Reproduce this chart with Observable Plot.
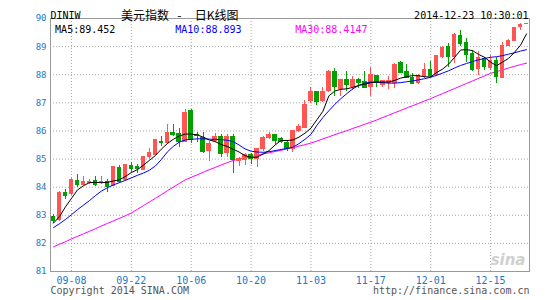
<!DOCTYPE html>
<html><head><meta charset="utf-8">
<script src="https://cdn.jsdelivr.net/npm/d3@7"></script>
<script src="https://cdn.jsdelivr.net/npm/@observablehq/plot@0.6"></script>
<style>body{margin:0;background:#fff} svg{white-space:pre}</style>
</head><body><div id="chart"></div>
<script>
const dates = ["09-03","09-04","09-05","09-08","09-09","09-10","09-11","09-12","09-15","09-16","09-17","09-18","09-19","09-22","09-23","09-24","09-25","09-26","09-29","09-30",
"10-01","10-02","10-03","10-06","10-07","10-08","10-09","10-10","10-13","10-14","10-15","10-16","10-17","10-20","10-21","10-22","10-23","10-24","10-27","10-28","10-29","10-30","10-31",
"11-03","11-04","11-05","11-06","11-07","11-10","11-11","11-12","11-13","11-14","11-17","11-18","11-19","11-20","11-21","11-24","11-25","11-26","11-27","11-28",
"12-01","12-02","12-03","12-04","12-05","12-08","12-09","12-10","12-11","12-12","12-15","12-16","12-17","12-18","12-19","12-22","12-23"];
const open  = [82.94,82.80,83.80,83.75,84.25,84.06,84.13,84.23,84.12,84.19,84.04,84.69,84.23,84.78,84.72,84.61,85.06,85.14,85.64,85.54,
85.95,85.92,85.60,86.73,85.87,85.75,85.27,85.62,85.80,85.18,85.82,84.90,84.95,85.15,85.00,85.33,85.73,85.86,85.73,85.59,85.35,85.98,86.10,
87.05,87.42,87.05,87.42,88.10,87.46,87.83,87.55,87.83,87.76,87.56,87.99,87.61,87.69,87.67,88.42,88.12,87.90,87.67,87.92,
88.20,87.96,88.62,89.00,88.60,89.40,89.14,88.75,88.19,88.57,88.21,88.51,87.88,89.02,89.19,89.67,89.79];
const high  = [83.02,83.86,83.93,84.31,84.46,84.39,84.29,84.37,84.37,84.27,84.75,84.76,84.82,84.88,84.80,85.10,85.36,85.68,85.81,86.23,
86.23,86.10,86.75,86.75,85.95,85.95,85.62,85.90,85.87,85.87,85.87,85.05,85.19,85.19,85.39,85.80,85.94,85.89,85.76,85.67,86.02,86.24,87.10,
87.56,87.42,87.56,88.15,88.21,87.83,88.10,87.95,87.88,88.10,88.24,87.99,87.81,87.93,88.40,88.48,88.36,88.05,88.02,88.40,
88.47,88.70,89.02,89.12,89.46,89.58,89.29,88.87,88.81,88.63,88.67,88.63,89.14,89.26,89.67,89.82,89.81];
const low   = [82.70,82.78,83.56,83.71,83.99,84.06,84.10,84.02,84.11,83.82,84.01,84.13,84.20,84.52,84.48,84.58,85.00,85.12,85.45,85.53,
85.80,85.42,85.58,85.54,85.60,85.20,84.92,85.58,85.05,85.05,84.50,84.72,84.78,84.82,84.71,85.27,85.69,85.51,85.55,85.27,85.25,85.95,86.08,
86.98,86.90,87.02,87.38,87.24,87.24,87.40,87.43,87.52,87.52,87.21,87.55,87.55,87.49,87.51,88.06,87.88,87.64,87.64,87.88,
87.90,87.93,88.58,88.26,88.39,88.99,88.45,88.10,87.98,88.15,88.15,87.68,87.86,88.99,89.17,89.58,89.78];
const close = [82.80,83.81,83.70,84.27,84.08,84.19,84.20,84.11,84.21,84.04,84.75,84.21,84.80,84.66,84.66,85.10,85.24,85.68,85.58,85.95,
85.89,85.63,86.67,85.68,85.83,85.27,85.55,85.80,85.18,85.82,85.00,85.01,85.15,85.01,85.37,85.75,85.86,85.67,85.62,85.36,86.00,86.16,86.94,
87.42,87.05,87.42,88.12,87.58,87.83,87.64,87.83,87.74,87.55,88.00,87.73,87.79,87.79,88.38,88.08,87.90,87.67,87.96,88.18,
87.96,88.68,88.98,88.64,89.43,89.11,88.71,88.19,88.60,88.31,88.51,87.92,89.05,89.23,89.67,89.79,89.81];
const ma5  = [82.72,82.95,83.30,83.60,83.90,84.05,84.16,84.17,84.16,84.17,84.22,84.26,84.38,84.52,84.62,84.78,84.95,85.12,85.35,85.55,
85.70,85.82,85.89,85.89,85.86,85.78,85.68,85.62,85.52,85.45,85.35,85.25,85.12,85.06,85.07,85.18,85.30,85.50,85.66,85.66,85.68,85.78,85.92,
86.10,86.40,86.70,87.25,87.42,87.48,87.50,87.55,87.62,87.66,87.72,87.74,87.74,87.74,87.80,87.88,87.93,87.97,87.96,87.93,
87.92,88.08,88.20,88.38,88.62,88.88,88.89,88.86,88.72,88.62,88.45,88.32,88.45,88.58,88.80,89.05,89.45];
const ma10 = [82.56,82.70,82.85,83.02,83.20,83.36,83.52,83.70,83.86,83.98,84.08,84.16,84.24,84.33,84.42,84.50,84.60,84.75,84.98,85.25,
85.45,85.60,85.68,85.70,85.72,85.72,85.71,85.70,85.69,85.67,85.62,85.50,85.36,85.28,85.25,85.24,85.26,85.30,85.34,85.38,85.42,85.55,85.70,
85.88,86.20,86.48,86.72,86.95,87.15,87.33,87.50,87.62,87.70,87.74,87.73,87.72,87.70,87.70,87.72,87.75,87.78,87.82,87.86,
87.91,87.98,88.06,88.14,88.24,88.33,88.40,88.47,88.53,88.58,88.62,88.64,88.68,88.73,88.78,88.84,88.89];
const ma30 = [81.88,81.97,82.06,82.16,82.25,82.34,82.43,82.52,82.62,82.71,82.80,82.89,82.98,83.08,83.21,83.34,83.47,83.60,83.73,83.87,
84.00,84.13,84.26,84.35,84.44,84.53,84.62,84.70,84.79,84.87,84.95,85.00,85.04,85.09,85.13,85.18,85.22,85.27,85.31,85.36,85.40,85.46,85.51,
85.57,85.64,85.72,85.79,85.87,85.94,86.01,86.09,86.16,86.24,86.31,86.39,86.48,86.56,86.65,86.73,86.82,86.90,86.98,87.07,
87.15,87.24,87.33,87.42,87.51,87.60,87.69,87.78,87.87,87.96,88.05,88.11,88.17,88.24,88.30,88.36,88.41];
const yTicks = [81,82,83,84,85,86,87,88,89,90];
const xTicks = ["09-08","09-22","10-06","10-20","11-03","11-17","12-01","12-15"];
const maNames = ["MA5","MA10","MA30"];
const maValues = ["89.452","88.893","88.4147"];
const symbol = "DINIW";
const title = "美元指数   -     日K线图";
const stamp = "2014-12-23 10:30:01";
const copyright = "Copyright 2014 SINA.COM";
const url = "http://finance.sina.com.cn";

const UP = "#ff5555", DOWN = "#00a000", AXIS = "#1a78c8", GRID = "#a8a8a8";
const maColors = ["#000000", "#0000ff", "#ff00ff"];
const candles = dates.map((d, i) => ({date: d, open: open[i], high: high[i], low: low[i], close: close[i],
  color: close[i] >= open[i] ? UP : DOWN}));
const maSeries = [ma5, ma10, ma30].map((arr, k) => dates.map((d, i) => ({date: d, v: arr[i], color: maColors[k]})));
const maText = maNames.map((n, k) => ({t: n + ":" + maValues[k], color: maColors[k], dx: [4.6, 124.8, 244.7][k]}));

const chart = Plot.plot({
  width: 545, height: 300,
  marginLeft: 50, marginRight: 16, marginTop: 18, marginBottom: 29,
  style: {fontFamily: "DejaVu Sans Mono", fontSize: "10px", background: "#fff"},
  x: {type: "band", domain: dates, paddingInner: 0.25, paddingOuter: 0.125, axis: null},
  y: {domain: [81, 90], axis: null},
  color: {type: "identity"},
  marks: [
    Plot.ruleY(yTicks.slice(1, -1), {stroke: GRID, strokeDasharray: "1,2"}),
    Plot.ruleX(xTicks, {x: d => d, stroke: GRID, strokeDasharray: "1,2"}),
    Plot.line(maSeries[2], {x: "date", y: "v", stroke: "color", strokeWidth: 1}),
    Plot.ruleX(candles, {x: "date", y1: "low", y2: "high", stroke: "color", strokeWidth: 1, shapeRendering: "crispEdges"}),
    Plot.barY(candles, {x: "date", y1: "open", y2: "close", fill: "color", shapeRendering: "crispEdges"}),
    Plot.tickY(candles, {x: "date", y: "close", stroke: "color", shapeRendering: "crispEdges"}),
    Plot.line(maSeries[1], {x: "date", y: "v", stroke: "color", strokeWidth: 1}),
    Plot.line(maSeries[0], {x: "date", y: "v", stroke: "color", strokeWidth: 1}),
    Plot.axisY({ticks: yTicks, tickSize: 0, tickPadding: 4, fill: AXIS, fontSize: 9, label: null}),
    Plot.axisX({ticks: xTicks, tickSize: 0, tickPadding: 5, fill: AXIS, fontSize: 10, label: null}),
    Plot.text(["sina"], {frameAnchor: "bottom-right", dx: -4, dy: -7, textAnchor: "end", fontSize: 15, fontStyle: "italic", fontWeight: "bold", fill: "#d0d0d0", fontFamily: "DejaVu Sans"}),
    Plot.frame({stroke: "#999"}),
    Plot.text([symbol], {frameAnchor: "top-left", dy: -6.2, textAnchor: "start", fill: "#000"}),
    Plot.text([title], {frameAnchor: "top-left", dx: 70.6, dy: -7.3, textAnchor: "start", fill: "#000", fontSize: 12, fontFamily: "Noto Sans CJK SC"}),
    Plot.text([stamp], {frameAnchor: "top-right", dx: -1, dy: -6.2, textAnchor: "end", fill: "#000"}),
    ...maText.map(m => Plot.text([m.t], {frameAnchor: "top-left", dx: m.dx, dy: 7.3, textAnchor: "start", fill: m.color})),
    Plot.text([copyright], {frameAnchor: "bottom-left", dy: 22.8, textAnchor: "start", fill: "#555"}),
    Plot.text([url], {frameAnchor: "bottom-right", dy: 22.8, textAnchor: "end", fill: "#555"})
  ]
});
document.getElementById("chart").appendChild(chart);
</script>
</body></html>
